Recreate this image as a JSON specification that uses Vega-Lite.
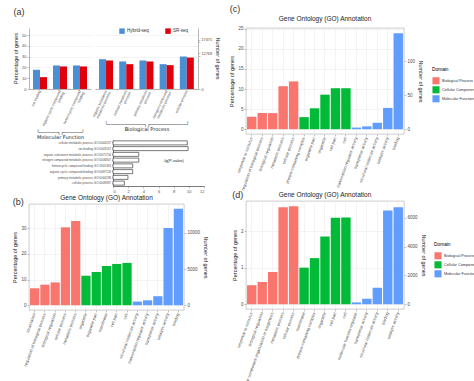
{
"$schema": "https://vega.github.io/schema/vega-lite/v6.json",
"background": "white",
"padding": {"left": 12, "top": 5, "right": 0, "bottom": 0},
"datasets": {
"a": [
{"domain": "MF", "term": "ion binding", "method": "Hybrid-seq", "pct": 17.8},
{"domain": "MF", "term": "ion binding", "method": "SR-seq", "pct": 11.0},
{"domain": "MF", "term": "organic cyclic compound binding", "method": "Hybrid-seq", "pct": 21.8},
{"domain": "MF", "term": "organic cyclic compound binding", "method": "SR-seq", "pct": 20.9},
{"domain": "MF", "term": "heterocyclic compound binding", "method": "Hybrid-seq", "pct": 21.8},
{"domain": "MF", "term": "heterocyclic compound binding", "method": "SR-seq", "pct": 20.9},
{"domain": "BP", "term": "organic substance metabolic process", "method": "Hybrid-seq", "pct": 27.6},
{"domain": "BP", "term": "organic substance metabolic process", "method": "SR-seq", "pct": 26.4},
{"domain": "BP", "term": "cellular metabolic process", "method": "Hybrid-seq", "pct": 25.5},
{"domain": "BP", "term": "cellular metabolic process", "method": "SR-seq", "pct": 23.0},
{"domain": "BP", "term": "primary metabolic process", "method": "Hybrid-seq", "pct": 26.4},
{"domain": "BP", "term": "primary metabolic process", "method": "SR-seq", "pct": 25.5},
{"domain": "BP", "term": "nitrogen compound metabolic process", "method": "Hybrid-seq", "pct": 23.0},
{"domain": "BP", "term": "nitrogen compound metabolic process", "method": "SR-seq", "pct": 22.1},
{"domain": "BP", "term": "cellular process", "method": "Hybrid-seq", "pct": 30.1},
{"domain": "BP", "term": "cellular process", "method": "SR-seq", "pct": 29.1}
],
"abot": [
{"term": "cellular metabolic process GO:0044237", "lgp": 9.8},
{"term": "ion binding GO:0043167", "lgp": 9.9},
{"term": "organic substance metabolic process GO:0071704", "lgp": 3.4},
{"term": "nitrogen compound metabolic process GO:0006807", "lgp": 3.4},
{"term": "heterocyclic compound binding GO:1901363", "lgp": 2.6},
{"term": "organic cyclic compound binding GO:0097159", "lgp": 2.6},
{"term": "primary metabolic process GO:0044238", "lgp": 1.97},
{"term": "cellular process GO:0009987", "lgp": 1.5}
],
"b": [
{"domain": "Biological Process", "term": "localization", "pct": 6.6},
{"domain": "Biological Process", "term": "regulation of biological process", "pct": 8.0},
{"domain": "Biological Process", "term": "biological regulation", "pct": 8.9},
{"domain": "Biological Process", "term": "cellular process", "pct": 30.4},
{"domain": "Biological Process", "term": "metabolic process", "pct": 32.9},
{"domain": "Cellular Component", "term": "organelle", "pct": 11.5},
{"domain": "Cellular Component", "term": "organelle part", "pct": 13.0},
{"domain": "Cellular Component", "term": "membrane", "pct": 15.3},
{"domain": "Cellular Component", "term": "cell part", "pct": 16.1},
{"domain": "Cellular Component", "term": "cell", "pct": 16.5},
{"domain": "Molecular Function", "term": "structural molecule activity", "pct": 1.4},
{"domain": "Molecular Function", "term": "transcription regulator activity", "pct": 1.9},
{"domain": "Molecular Function", "term": "transporter activity", "pct": 3.5},
{"domain": "Molecular Function", "term": "catalytic activity", "pct": 30.1},
{"domain": "Molecular Function", "term": "binding", "pct": 37.6}
],
"c": [
{"domain": "Biological Process", "term": "response to stimulus", "pct": 3.1},
{"domain": "Biological Process", "term": "regulation of biological process", "pct": 4.0},
{"domain": "Biological Process", "term": "biological regulation", "pct": 4.0},
{"domain": "Biological Process", "term": "metabolic process", "pct": 10.7},
{"domain": "Biological Process", "term": "cellular process", "pct": 11.9},
{"domain": "Cellular Component", "term": "protein-containing complex", "pct": 3.0},
{"domain": "Cellular Component", "term": "organelle part", "pct": 5.2},
{"domain": "Cellular Component", "term": "organelle", "pct": 8.6},
{"domain": "Cellular Component", "term": "cell part", "pct": 10.2},
{"domain": "Cellular Component", "term": "cell", "pct": 10.2},
{"domain": "Molecular Function", "term": "transcription regulator activity", "pct": 0.4},
{"domain": "Molecular Function", "term": "transporter activity", "pct": 0.7},
{"domain": "Molecular Function", "term": "structural molecule activity", "pct": 1.6},
{"domain": "Molecular Function", "term": "catalytic activity", "pct": 5.3},
{"domain": "Molecular Function", "term": "binding", "pct": 23.9}
],
"d": [
{"domain": "Biological Process", "term": "response to stimulus", "pct": 0.52},
{"domain": "Biological Process", "term": "biological regulation", "pct": 0.61},
{"domain": "Biological Process", "term": "cellular component organization or biogenesis", "pct": 0.88},
{"domain": "Biological Process", "term": "metabolic process", "pct": 2.65},
{"domain": "Biological Process", "term": "cellular process", "pct": 2.68},
{"domain": "Cellular Component", "term": "membrane", "pct": 1.0},
{"domain": "Cellular Component", "term": "protein-containing complex", "pct": 1.26},
{"domain": "Cellular Component", "term": "organelle", "pct": 1.85},
{"domain": "Cellular Component", "term": "cell part", "pct": 2.36},
{"domain": "Cellular Component", "term": "cell", "pct": 2.37},
{"domain": "Molecular Function", "term": "molecular function regulator", "pct": 0.05},
{"domain": "Molecular Function", "term": "transporter activity", "pct": 0.15},
{"domain": "Molecular Function", "term": "structural molecule activity", "pct": 0.45},
{"domain": "Molecular Function", "term": "binding", "pct": 2.56},
{"domain": "Molecular Function", "term": "catalytic activity", "pct": 2.65}
]
},
"config": {
"font": "Liberation Sans",
"view": {"stroke": null},
"axis": {"labelFontSize": 4.5, "titleFontSize": 5.5, "titleFontWeight": "normal", "labelColor": "#4d4d4d", "titleColor": "#222222", "tickColor": "#888888", "domainColor": "#888888", "tickSize": 2, "tickWidth": 0.5, "domainWidth": 0.6, "labelPadding": 1, "titlePadding": 3, "gridColor": "#e8e8e8", "gridWidth": 0.5},
"title": {"fontWeight": "normal", "color": "#222222"},
"legend": {"labelFontSize": 3.8, "titleFontSize": 4.8, "titleFontWeight": "normal", "labelColor": "#333333", "symbolStrokeWidth": 0, "labelLimit": 60}
},
"spacing": 9,
"resolve": {"scale": {"color": "independent"}, "legend": {"color": "independent"}},
"hconcat": [
{
"spacing": 0,
"resolve": {"scale": {"color": "independent"}, "legend": {"color": "independent"}},
"vconcat": [
{
"title": {"text": "(a)", "anchor": "start", "frame": "bounds", "fontSize": 9, "offset": 11, "color": "#333333"},
"spacing": 0,
"resolve": {"scale": {"color": "independent"}, "legend": {"color": "independent"}},
"hconcat": [
{
"width": 62, "height": 61,
"data": {"name": "a"},
"transform": [{"filter": "datum.domain == 'MF'"}],
"mark": {"type": "bar"},
"encoding": {
"x": {"field": "term", "type": "nominal", "sort": null, "scale": {"paddingInner": 0.3, "paddingOuter": 0.2},
 "axis": {"title": ["╰──────╮╭──────╯", "Molecular Function"], "titleFont": "DejaVu Sans", "titleFontSize": 5, "titleLineHeight": 5.5, "titlePadding": 1, "labelAngle": -65, "ticks": false, "labelFontSize": 3.6, "labelLineHeight": 4,
 "labelExpr": "datum.label == 'organic cyclic compound binding' ? ['organic cyclic compound', 'binding'] : datum.label == 'heterocyclic compound binding' ? ['heterocyclic compound', 'binding'] : datum.label"}},
"xOffset": {"field": "method", "sort": ["Hybrid-seq", "SR-seq"]},
"y": {"field": "pct", "type": "quantitative", "scale": {"domain": [0, 56.5], "nice": false}, "axis": {"values": [0, 10, 20, 30, 40, 50], "title": "Percentage of genes", "grid": true, "labelFontSize": 4, "titleY": 30}},
"color": {"field": "method", "type": "nominal", "scale": {"domain": ["Hybrid-seq", "SR-seq"], "range": ["#4a8fd4", "#e0000b"]}, "legend": null}
}
},
{
"width": 103, "height": 61,
"data": {"name": "a"},
"transform": [{"filter": "datum.domain == 'BP'"}],
"layer": [
{
"mark": {"type": "bar"},
"encoding": {
"x": {"field": "term", "type": "nominal", "sort": null, "scale": {"paddingInner": 0.3, "paddingOuter": 0.2},
 "axis": {"title": ["╰────────────╮╭────────────╯", "Biological Process"], "titleFont": "DejaVu Sans", "titleFontSize": 5, "titleLineHeight": 5.5, "titlePadding": 1, "labelAngle": -65, "ticks": false, "labelFontSize": 3.6, "labelLineHeight": 4,
 "labelExpr": "datum.label == 'organic substance metabolic process' ? ['organic substance', 'metabolic process'] : datum.label == 'cellular metabolic process' ? ['cellular metabolic', 'process'] : datum.label == 'primary metabolic process' ? ['primary metabolic', 'process'] : datum.label == 'nitrogen compound metabolic process' ? ['nitrogen compound', 'metabolic process'] : datum.label"}},
"xOffset": {"field": "method", "sort": ["Hybrid-seq", "SR-seq"]},
"y": {"field": "pct", "type": "quantitative", "scale": {"domain": [0, 56.5], "nice": false}, "axis": {"values": [0, 10, 20, 30, 40, 50], "title": null, "labels": false, "ticks": false, "domain": false, "grid": true}},
"color": {"field": "method", "type": "nominal", "scale": {"domain": ["Hybrid-seq", "SR-seq"], "range": ["#4a8fd4", "#e0000b"]},
 "legend": {"title": null, "orient": "none", "legendX": 24, "legendY": 0, "direction": "horizontal", "symbolType": "square", "symbolSize": 30, "labelFontSize": 4.5, "columnPadding": 16, "labelOffset": 2}}
}
},
{
"mark": {"type": "rule", "opacity": 0},
"encoding": {
"y": {"datum": 0, "type": "quantitative", "scale": {"domain": [0, 56.5], "nice": false},
 "axis": {"orient": "right", "values": [0, 30.4, 33.1, 43.3, 45.4], "title": "Number of genes", "titleY": 30, "grid": false, "labelFontSize": 3.8,
 "labelExpr": "datum.value == 0 ? '0' : datum.value == 30.4 ? '12045' : datum.value == 33.1 ? '12768' : datum.value == 43.3 ? '17404' : '17475'"}}
}
}
],
"resolve": {"axis": {"y": "independent"}}
}
]
},
{
"spacing": 1,
"vconcat": [
{
"spacing": 1,
"hconcat": [
{
"width": 11, "height": 46,
"mark": {"type": "rule", "opacity": 0},
"encoding": {}
},
{
"width": 91, "height": 46,
"data": {"name": "abot"},
"mark": {"type": "bar", "fill": "white", "stroke": "#222222", "strokeWidth": 0.6},
"encoding": {
"y": {"field": "term", "type": "nominal", "sort": null, "scale": {"paddingInner": 0.3, "paddingOuter": 0.15},
 "axis": {"title": null, "labelFontSize": 3, "tickSize": 1.5, "domainColor": "#222222"}},
"x": {"field": "lgp", "type": "quantitative", "scale": {"domain": [0, 12]},
 "axis": {"values": [0, 2, 4, 6, 8, 10, 12], "title": "-lg(P-value)", "titleX": 60, "titleY": -28, "titleFontSize": 4, "grid": false, "labelFontSize": 4, "domainColor": "#222222"}}
}
}
]
},
{
"title": {"text": "(b)", "anchor": "start", "frame": "bounds", "fontSize": 9, "offset": -13, "color": "#333333"},
"vconcat": [
{
"width": 155, "height": 106,
"title": {"text": "Gene Ontology (GO) Annotation", "fontSize": 6.5, "offset": 3},
"data": {"name": "b"},
"view": {"stroke": "#aaaaaa", "strokeWidth": 0.6},
"layer": [
{
"mark": {"type": "bar"},
"encoding": {
"x": {"field": "term", "type": "nominal", "sort": null, "scale": {"paddingInner": 0.1, "paddingOuter": 0.1},
 "axis": {"title": null, "labelAngle": -70, "grid": true, "bandPosition": 0.5, "domain": false, "labelFontSize": 4.1}},
"y": {"field": "pct", "type": "quantitative", "scale": {"domain": [-1.88, 39.5], "nice": false, "zero": false},
 "axis": {"values": [0, 10, 20, 30], "title": "Percentage of genes", "grid": true, "domain": false}},
"y2": {"datum": 0},
"color": {"field": "domain", "type": "nominal", "scale": {"domain": ["Biological Process", "Cellular Component", "Molecular Function"], "range": ["#F8766D", "#00BA38", "#619CFF"]}, "legend": null}
}
},
{
"mark": {"type": "rule", "opacity": 0},
"encoding": {
"y": {"datum": 0, "type": "quantitative", "scale": {"domain": [-665, 13983], "nice": false, "zero": false},
 "axis": {"orient": "right", "values": [0, 5000, 10000], "format": "d", "title": "Number of genes", "grid": false, "domain": false}}
}
}
],
"resolve": {"scale": {"y": "independent"}}
}
]
}
]
}
]
},
{
"spacing": 0,
"resolve": {"scale": {"color": "independent"}, "legend": {"color": "independent"}},
"vconcat": [
{
"title": {"text": "(c)", "anchor": "start", "frame": "bounds", "fontSize": 9, "offset": 2, "color": "#333333"},
"resolve": {"scale": {"color": "independent"}, "legend": {"color": "independent"}},
"vconcat": [
{
"width": 158, "height": 106,
"title": {"text": "Gene Ontology (GO) Annotation", "fontSize": 6.5, "offset": 3},
"data": {"name": "c"},
"view": {"stroke": "#aaaaaa", "strokeWidth": 0.6},
"layer": [
{
"mark": {"type": "bar"},
"encoding": {
"x": {"field": "term", "type": "nominal", "sort": null, "scale": {"paddingInner": 0.1, "paddingOuter": 0.1},
 "axis": {"title": null, "labelAngle": -70, "grid": true, "bandPosition": 0.5, "domain": false, "labelFontSize": 4.1}},
"y": {"field": "pct", "type": "quantitative", "scale": {"domain": [-1.2, 25.2], "nice": false, "zero": false},
 "axis": {"values": [0, 5, 10, 15, 20, 25], "title": "Percentage of genes", "grid": true, "domain": false}},
"y2": {"datum": 0},
"color": {"field": "domain", "type": "nominal", "scale": {"domain": ["Biological Process", "Cellular Component", "Molecular Function"], "range": ["#F8766D", "#00BA38", "#619CFF"]},
 "legend": {"title": "Domain", "orient": "none", "legendX": 186, "legendY": 39, "symbolType": "square", "symbolSize": 50, "rowPadding": 1, "labelOffset": 2}}
}
},
{
"mark": {"type": "rule", "opacity": 0},
"encoding": {
"y": {"datum": 0, "type": "quantitative", "scale": {"domain": [-7.1, 148.7], "nice": false, "zero": false},
 "axis": {"orient": "right", "values": [0, 50, 100], "format": "d", "title": "Number of genes", "grid": false, "domain": false}}
}
}
],
"resolve": {"scale": {"y": "independent"}}
}
]
},
{
"title": {"text": "(d)", "anchor": "start", "frame": "bounds", "fontSize": 9, "offset": -9, "color": "#333333"},
"resolve": {"scale": {"color": "independent"}, "legend": {"color": "independent"}},
"vconcat": [
{
"width": 158, "height": 108,
"title": {"text": "Gene Ontology (GO) Annotation", "fontSize": 6.5, "offset": 3},
"data": {"name": "d"},
"view": {"stroke": "#aaaaaa", "strokeWidth": 0.6},
"layer": [
{
"mark": {"type": "bar"},
"encoding": {
"x": {"field": "term", "type": "nominal", "sort": null, "scale": {"paddingInner": 0.1, "paddingOuter": 0.1},
 "axis": {"title": null, "labelAngle": -70, "grid": true, "bandPosition": 0.5, "domain": false, "labelFontSize": 4.1}},
"y": {"field": "pct", "type": "quantitative", "scale": {"domain": [-0.13, 2.82], "nice": false, "zero": false},
 "axis": {"values": [0, 1, 2], "title": "Percentage of genes", "grid": true, "domain": false}},
"y2": {"datum": 0},
"color": {"field": "domain", "type": "nominal", "scale": {"domain": ["Biological Process", "Cellular Component", "Molecular Function"], "range": ["#F8766D", "#00BA38", "#619CFF"]},
 "legend": {"title": "Domain", "orient": "none", "legendX": 188, "legendY": 41, "symbolType": "square", "symbolSize": 50, "rowPadding": 1, "labelOffset": 2}}
}
},
{
"mark": {"type": "rule", "opacity": 0},
"encoding": {
"y": {"datum": 0, "type": "quantitative", "scale": {"domain": [-330, 7157], "nice": false, "zero": false},
 "axis": {"orient": "right", "values": [0, 2000, 4000, 6000], "format": "d", "title": "Number of genes", "grid": false, "domain": false}}
}
}
],
"resolve": {"scale": {"y": "independent"}}
}
]
}
]
}
]
}
